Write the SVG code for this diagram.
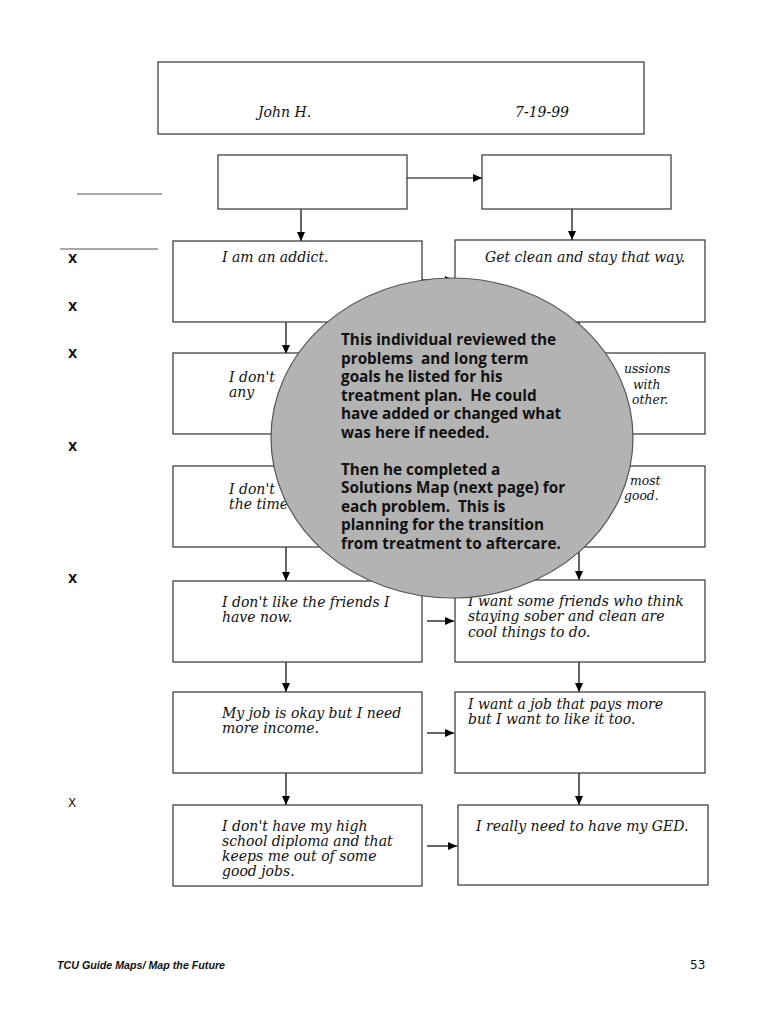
<svg xmlns="http://www.w3.org/2000/svg" width="768" height="1024" viewBox="0 0 768 1024">
<defs>
<marker id="ah" markerUnits="userSpaceOnUse" markerWidth="9" markerHeight="8" refX="9" refY="4" orient="auto">
<path d="M0,0 L9,4 L0,8 z" fill="#000"/>
</marker>
<style>
.box{fill:#fff;stroke:#333;stroke-width:1.2}
.hand{font-family:"DejaVu Serif","Liberation Serif",serif;font-style:italic;font-size:14px;fill:#111}
.frag{font-size:12.4px}
.con{stroke:#000;stroke-width:1.2;fill:none;marker-end:url(#ah)}
.rule{stroke:#555;stroke-width:1.2}
.x{font-family:"DejaVu Sans",sans-serif;font-weight:bold;font-size:12px;fill:#111}
.note{font-family:"Open Sans","DejaVu Sans",sans-serif;font-weight:bold;font-size:15.3px;fill:#111;white-space:pre}
</style>
</defs>
<rect width="768" height="1024" fill="#fff"/>

<g id="header">
<rect class="box" x="158" y="62" width="486" height="72"/>
<text class="hand" x="258" y="117" font-size="18">John H.</text>
<text class="hand" x="515" y="117" font-size="16.5">7-19-99</text>
</g>

<g id="margin">
<line class="rule" x1="77" y1="194" x2="162" y2="194"/>
<line class="rule" x1="60" y1="249" x2="158" y2="249"/>
<text class="x" x="68" y="263">X</text>
<text class="x" x="68" y="311">X</text>
<text class="x" x="68" y="358">X</text>
<text class="x" x="68" y="451">X</text>
<text class="x" x="68" y="583">X</text>
<text x="68" y="807" font-family="DejaVu Sans,sans-serif" font-size="12" fill="#222">X</text>
</g>

<g id="connectors">
<line class="con" x1="407" y1="178" x2="482" y2="178"/>
<line class="con" x1="301" y1="209" x2="301" y2="241"/>
<line class="con" x1="572" y1="209" x2="572" y2="240"/>
<line class="con" x1="422" y1="280" x2="454" y2="280"/>
<line class="con" x1="286" y1="322" x2="286" y2="354"/>
<line class="con" x1="579" y1="322" x2="579" y2="353"/>
<line class="con" x1="286" y1="547" x2="286" y2="581"/>
<line class="con" x1="579" y1="547" x2="579" y2="580"/>
<line class="con" x1="427" y1="621" x2="454" y2="621"/>
<line class="con" x1="286" y1="662" x2="286" y2="692"/>
<line class="con" x1="579" y1="662" x2="579" y2="692"/>
<line class="con" x1="427" y1="733" x2="454" y2="733"/>
<line class="con" x1="286" y1="773" x2="286" y2="805"/>
<line class="con" x1="579" y1="773" x2="579" y2="805"/>
<line class="con" x1="427" y1="846" x2="457" y2="846"/>
</g>

<g id="problem-head"><rect class="box" x="218" y="155" width="189" height="54"/></g>
<g id="goal-head"><rect class="box" x="482" y="155" width="189" height="54"/></g>

<g id="p1"><rect class="box" x="173" y="241" width="249" height="81"/>
<text class="hand" x="222" y="262">I am an addict.</text></g>
<g id="g1"><rect class="box" x="455" y="240" width="250" height="82"/>
<text class="hand" x="485" y="262">Get clean and stay that way.</text></g>

<g id="p2"><rect class="box" x="173" y="353" width="249" height="81"/>
<text class="hand" x="229" y="382">I don't</text>
<text class="hand" x="229" y="397">any</text></g>
<g id="g2"><rect class="box" x="455" y="353" width="250" height="81"/>
<text class="hand frag" x="624" y="373">ussions</text>
<text class="hand frag" x="633" y="389">with</text>
<text class="hand frag" x="632" y="404">other.</text></g>

<g id="p3"><rect class="box" x="173" y="466" width="249" height="81"/>
<text class="hand" x="229" y="494">I don't</text>
<text class="hand" x="229" y="509">the time</text></g>
<g id="g3"><rect class="box" x="455" y="466" width="250" height="81"/>
<text class="hand frag" x="630" y="485">most</text>
<text class="hand frag" x="624" y="500">good.</text></g>

<g id="p4"><rect class="box" x="173" y="581" width="249" height="81"/>
<text class="hand" x="222" y="607">I don't like the friends I</text>
<text class="hand" x="222" y="622">have now.</text></g>
<g id="g4"><rect class="box" x="455" y="580" width="250" height="82"/>
<text class="hand" x="468" y="606">I want some friends who think</text>
<text class="hand" x="468" y="621">staying sober and clean are</text>
<text class="hand" x="468" y="637">cool things to do.</text></g>

<g id="p5"><rect class="box" x="173" y="692" width="249" height="81"/>
<text class="hand" x="222" y="718">My job is okay but I need</text>
<text class="hand" x="222" y="733">more income.</text></g>
<g id="g5"><rect class="box" x="455" y="692" width="250" height="81"/>
<text class="hand" x="468" y="709">I want a job that pays more</text>
<text class="hand" x="468" y="724">but I want to like it too.</text></g>

<g id="p6"><rect class="box" x="173" y="805" width="249" height="81"/>
<text class="hand" x="222" y="831">I don't have my high</text>
<text class="hand" x="222" y="846">school diploma and that</text>
<text class="hand" x="222" y="861">keeps me out of some</text>
<text class="hand" x="222" y="876">good jobs.</text></g>
<g id="g6"><rect class="box" x="458" y="805" width="250" height="80"/>
<text class="hand" x="476" y="831">I really need to have my GED.</text></g>

<g id="note">
<ellipse cx="452" cy="438" rx="181" ry="160" fill="#b3b3b3" stroke="#555" stroke-width="1.2"/>
<text class="note" x="341" y="345">This individual reviewed the</text>
<text class="note" x="341" y="363.5">problems  and long term</text>
<text class="note" x="341" y="382">goals he listed for his</text>
<text class="note" x="341" y="400.5">treatment plan.  He could</text>
<text class="note" x="341" y="419">have added or changed what</text>
<text class="note" x="341" y="437.5">was here if needed.</text>
<text class="note" x="341" y="474.5">Then he completed a</text>
<text class="note" x="341" y="493">Solutions Map (next page) for</text>
<text class="note" x="341" y="511.5">each problem.  This is</text>
<text class="note" x="341" y="530">planning for the transition</text>
<text class="note" x="341" y="548.5">from treatment to aftercare.</text>
</g>

<g id="footer">
<text x="57" y="969" font-family="Liberation Sans,sans-serif" font-style="italic" font-weight="bold" font-size="10.7" fill="#111">TCU Guide Maps/ Map the Future</text>
<text x="690" y="969" font-family="DejaVu Sans,sans-serif" font-size="12" fill="#111">53</text>
</g>
</svg>
